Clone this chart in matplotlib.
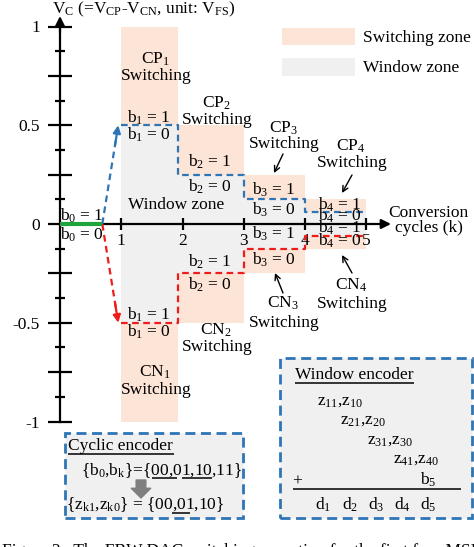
import numpy as np
import matplotlib
matplotlib.use("Agg")
import matplotlib.pyplot as plt
from matplotlib.patches import Rectangle

plt.rcParams['font.family'] = ['Liberation Serif', 'DejaVu Serif']
plt.rcParams['mathtext.fontset'] = 'custom'
plt.rcParams['mathtext.rm'] = 'Liberation Serif'
plt.rcParams['mathtext.it'] = 'Liberation Serif:italic'
plt.rcParams['mathtext.bf'] = 'Liberation Serif:bold'
plt.rcParams['font.size'] = 12.5

# ---------------- data ----------------
cycle_edges = [1.0, 1.92, 3.0, 4.0, 5.0]          # conversion-cycle boundaries
window_levels = [0.5, 0.25, 0.125, 0.0625]          # |V_C| after each cycle
switch_upper = [1.0, 0.5, 0.25, 0.125]              # top of each switching zone
b0_end = 0.69                                       # end of the b0 (green) segment
arrow_tip = 0.95
y_major = [-1, -0.75, -0.5, -0.25, 0, 0.25, 0.5, 0.75, 1]
y_labels = ['-1', '', '-0.5', '', '0', '', '0.5', '', '1']
y_minor = [-0.875, -0.625, -0.375, -0.125, 0.125, 0.375, 0.625, 0.875]
x_ticks = [1, 2, 3, 4, 5]
x_labels = ['1', '2', '3', '4', '5']
d_labels = [r'$\mathrm{d}_1$', r'$\mathrm{d}_2$', r'$\mathrm{d}_3$', r'$\mathrm{d}_4$', r'$\mathrm{d}_5$']

ORANGE = '#FCE4D6'
GRAY = '#F0F0F0'
BLUE = '#2E75B6'
RED = '#EE1C1C'
GREEN = '#1FA33A'

# pixel -> data mapping helpers (layout only)
X0, SX, Y0, SY = 60.0, 61.3, 224.0, 197.5
def U(px): return (px - X0) / SX
def V(py): return (Y0 - py) / SY

fig = plt.figure(figsize=(4.74, 5.47), dpi=100)
ax = fig.add_axes([0, 0, 1, 1])
ax.set_xlim(U(0), U(474))
ax.set_ylim(V(547), V(0))
ax.set_facecolor('white')

# axes through origin
for s in ['top', 'right']:
    ax.spines[s].set_visible(False)
ax.spines['left'].set_position(('data', 0))
ax.spines['bottom'].set_position(('data', 0))
ax.spines['left'].set_bounds(-1, 1.0)
ax.spines['bottom'].set_bounds(0, 5.3)
for s in ['left', 'bottom']:
    ax.spines[s].set_linewidth(1.6)
ax.set_yticks(y_major)
ax.set_yticklabels(y_labels)
ax.set_yticks(y_minor, minor=True)
ax.set_xticks(x_ticks)
ax.set_xticklabels(x_labels)
ax.tick_params(axis='y', which='major', direction='inout', length=17, width=1.6, pad=6, labelsize=12.5)
ax.tick_params(axis='y', which='minor', direction='inout', length=7.5, width=1.6)
ax.tick_params(axis='x', which='major', direction='inout', length=8.5, width=1.6, pad=2, labelsize=12.5)
ax.annotate('', xy=(0, V(16)), xytext=(0, 0.97),
            arrowprops=dict(arrowstyle='-|>', lw=1.6, color='k', mutation_scale=14, shrinkA=0, shrinkB=0))
ax.annotate('', xy=(U(391), 0), xytext=(5.25, 0),
            arrowprops=dict(arrowstyle='-|>', lw=1.6, color='k', mutation_scale=14, shrinkA=0, shrinkB=0))

# window zone (gray) between the two staircases
wl = window_levels + [window_levels[-1]]
ax.fill_between(cycle_edges, wl, [-v for v in wl], step='post', color=GRAY, lw=0, zorder=0.5)

# switching zones (orange)
lefts = cycle_edges[:-1]
widths = np.diff(cycle_edges)
heights = np.array(switch_upper) - np.array(window_levels)
ax.bar(lefts, heights, width=widths, bottom=window_levels, align='edge', color=ORANGE, lw=0, zorder=0.6)
ax.bar(lefts, -heights, width=widths, bottom=[-v for v in window_levels], align='edge', color=ORANGE, lw=0, zorder=0.6)

# staircases
ls = (0, (3, 2))
ax.step(cycle_edges, wl, where='post', color=BLUE, lw=1.6, ls=ls, zorder=3)
ax.step(cycle_edges, [-v for v in wl], where='post', color=RED, lw=1.6, ls=ls, zorder=3)
# initial diagonal with arrow
for sgn, col in [(1, BLUE), (-1, RED)]:
    tipx, tipy = arrow_tip, sgn * window_levels[0]
    frac = 0.85
    ax.plot([b0_end, b0_end + frac * (tipx - b0_end)], [0, frac * tipy], color=col, lw=1.6, ls=ls, zorder=3)
    ax.annotate('', xy=(tipx, tipy), xytext=(b0_end + 0.8 * (tipx - b0_end), 0.8 * tipy),
                arrowprops=dict(arrowstyle='-|>', lw=1.6, color=col, mutation_scale=11, shrinkA=0, shrinkB=0), zorder=3)
ax.plot([0, b0_end], [0, 0], color=GREEN, lw=3, solid_capstyle='butt', zorder=4)

def txt(px, py, s, ha='left', **kw):
    ax.text(U(px), V(py), s, ha=ha, va='baseline', **kw)

# title
txt(52, 13, r'V$_\mathrm{C}$ (=V$_\mathrm{CP}$-V$_\mathrm{CN}$, unit: V$_\mathrm{FS}$)')

# legend
def rect_px(x0, y0, x1, y1, **kw):
    p = Rectangle((U(x0), V(y1)), U(x1) - U(x0), V(y0) - V(y1), **kw)
    ax.add_patch(p)
    return p
rect_px(282, 28, 355, 45, color=ORANGE, lw=0)
rect_px(282, 58, 355, 76, color=GRAY, lw=0)
txt(363, 42, 'Switching zone')
txt(363, 72, 'Window zone')

# bit labels
bl = [
    (60, 221, r'$\mathrm{b}_0$ = 1'), (60, 240, r'$\mathrm{b}_0$ = 0'),
    (127, 123, r'$\mathrm{b}_1$ = 1'), (127, 140, r'$\mathrm{b}_1$ = 0'),
    (188, 167, r'$\mathrm{b}_2$ = 1'), (188, 192, r'$\mathrm{b}_2$ = 0'),
    (252, 195, r'$\mathrm{b}_3$ = 1'), (252, 215, r'$\mathrm{b}_3$ = 0'),
    (318, 210, r'$\mathrm{b}_4$ = 1'), (318, 221, r'$\mathrm{b}_4$ = 0'),
    (318, 233, r'$\mathrm{b}_4$ = 1'), (318, 246, r'$\mathrm{b}_4$ = 0'),
    (252, 239, r'$\mathrm{b}_3$ = 1'), (252, 265, r'$\mathrm{b}_3$ = 0'),
    (188, 267, r'$\mathrm{b}_2$ = 1'), (188, 290, r'$\mathrm{b}_2$ = 0'),
    (127, 320, r'$\mathrm{b}_1$ = 1'), (127, 337, r'$\mathrm{b}_1$ = 0'),
]
for px, py, s in bl:
    txt(px, py, s, zorder=5)
txt(128, 209, 'Window zone')

# switching labels
sw = [
    (155, 64, 80, r'CP$_1$'), (216, 108, 124, r'CP$_2$'),
    (283, 133, 148, r'CP$_3$'), (351, 151, 167, r'CP$_4$'),
    (155, 377, 394, r'CN$_1$'), (216, 335, 351, r'CN$_2$'),
    (283, 308, 327, r'CN$_3$'), (351, 290, 308, r'CN$_4$'),
]
for px, b1, b2, s in sw:
    txt(px, b1, s, ha='center')
    txt(px + 1, b2, 'Switching', ha='center')

for (x0, y0, x1, y1) in [(283, 154, 274, 173), (352, 175, 342, 193),
                         (283, 293, 275, 273), (352, 273, 342, 255)]:
    ax.annotate('', xy=(U(x1), V(y1)), xytext=(U(x0), V(y0)),
                arrowprops=dict(arrowstyle='->', lw=1.0, color='k', mutation_scale=10, shrinkA=0, shrinkB=0))

txt(428, 217, 'Conversion', ha='center')
txt(429, 232, 'cycles (k)', ha='center')

# encoder boxes
box_ls = (0, (3.6, 2.0))
rect_px(65, 433, 243, 518, facecolor=GRAY, edgecolor=BLUE, lw=2, ls=box_ls)
rect_px(280, 358, 472, 518, facecolor=GRAY, edgecolor=BLUE, lw=2, ls=box_ls)

def hline_px(x0, x1, y, lw=1.1, color='k'):
    ax.plot([U(x0), U(x1)], [V(y), V(y)], color=color, lw=lw, solid_capstyle='butt')

txt(68, 450, 'Cyclic encoder')
hline_px(68, 174, 454)
txt(81, 475, r'{$\mathrm{b}_0$,$\mathrm{b}_\mathrm{k}$}={00,01,10,11}')
hline_px(152, 177, 478)
hline_px(182, 212, 478)
txt(66, 509, r'{$\mathrm{z}_\mathrm{k1}$,$\mathrm{z}_\mathrm{k0}$} = {00,01,10}')
hline_px(172, 190, 513)
ax.annotate('', xy=(U(141), V(498)), xytext=(U(141), V(480)),
            arrowprops=dict(arrowstyle='simple,head_length=0.5,head_width=1.0,tail_width=0.5',
                            color='#7F7F7F', mutation_scale=14, shrinkA=0, shrinkB=0))

txt(295, 379, 'Window encoder')
hline_px(295, 414, 383)
txt(317, 405, r'$\mathrm{z}_{11}$,$\mathrm{z}_{10}$')
txt(340, 424, r'$\mathrm{z}_{21}$,$\mathrm{z}_{20}$')
txt(367, 444, r'$\mathrm{z}_{31}$,$\mathrm{z}_{30}$')
txt(393, 463, r'$\mathrm{z}_{41}$,$\mathrm{z}_{40}$')
txt(292, 486, '+')
txt(420, 485, r'$\mathrm{b}_5$')
hline_px(293, 461, 489)
for px, s in zip([315, 342, 368, 394, 420], d_labels):
    txt(px, 510, s)

# caption (cut by the bottom edge)
txt(2, 555, 'Figure 2.  The FBW DAC switching operation for the first four MSB')

fig.savefig('out.png', dpi=100)
